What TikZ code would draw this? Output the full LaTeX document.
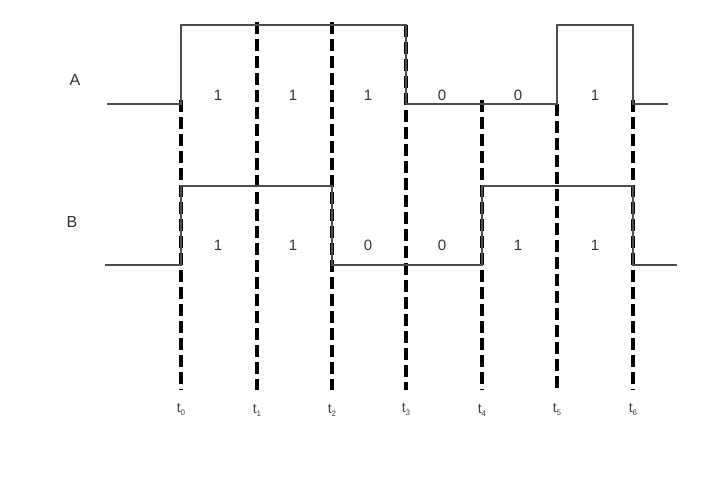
\documentclass[tikz,border=0pt]{standalone}
\usepackage{fontspec}
\setmainfont{Liberation Sans}
\begin{document}
\begin{tikzpicture}[x=1pt,y=-1pt,
  sig/.style={draw=black!70,line width=1.3pt},
  tick/.style={draw=black,line width=3.5pt,dash pattern=on 12pt off 5pt},
  bit/.style={font=\fontsize{15}{15}\selectfont,text=black!80},
  lab/.style={font=\fontsize{16}{16}\selectfont,text=black!80},
  tl/.style={font=\fontsize{14}{14}\selectfont,text=black!75}]
\useasboundingbox (0,0) rectangle (719,488);
\foreach \x/\s [count=\i from 0] in {181/100,257/22,332/22,406/25,482/100,557/104,633/100}{
  \coordinate (top\i) at (\x,\s);
  \coordinate (bot\i) at (\x,390);
  \draw[tick] (top\i) -- (bot\i);
  \node[tl] (t\i) at (\x,410) {t\raisebox{-3pt}{\fontsize{8}{8}\selectfont\i}};
}
\node[lab] (A) at (75,80) {A};
\node[lab] (B) at (72,222) {B};
\draw[sig] (107,104) -- (181,104) -- (181,25) -- (406,25) -- (406,104) -- (557,104) -- (557,25) -- (633,25) -- (633,104) -- (668,104);
\draw[sig] (105,265) -- (181,265) -- (181,186) -- (332,186) -- (332,265) -- (482,265) -- (482,186) -- (633,186) -- (633,265) -- (677,265);
\foreach \x/\v [count=\i] in {218/1,293/1,368/1,442/0,518/0,595/1}
  \node[bit] (a\i) at (\x,95) {\v};
\foreach \x/\v [count=\i] in {218/1,293/1,368/0,442/0,518/1,595/1}
  \node[bit] (b\i) at (\x,245) {\v};
\end{tikzpicture}
\end{document}
